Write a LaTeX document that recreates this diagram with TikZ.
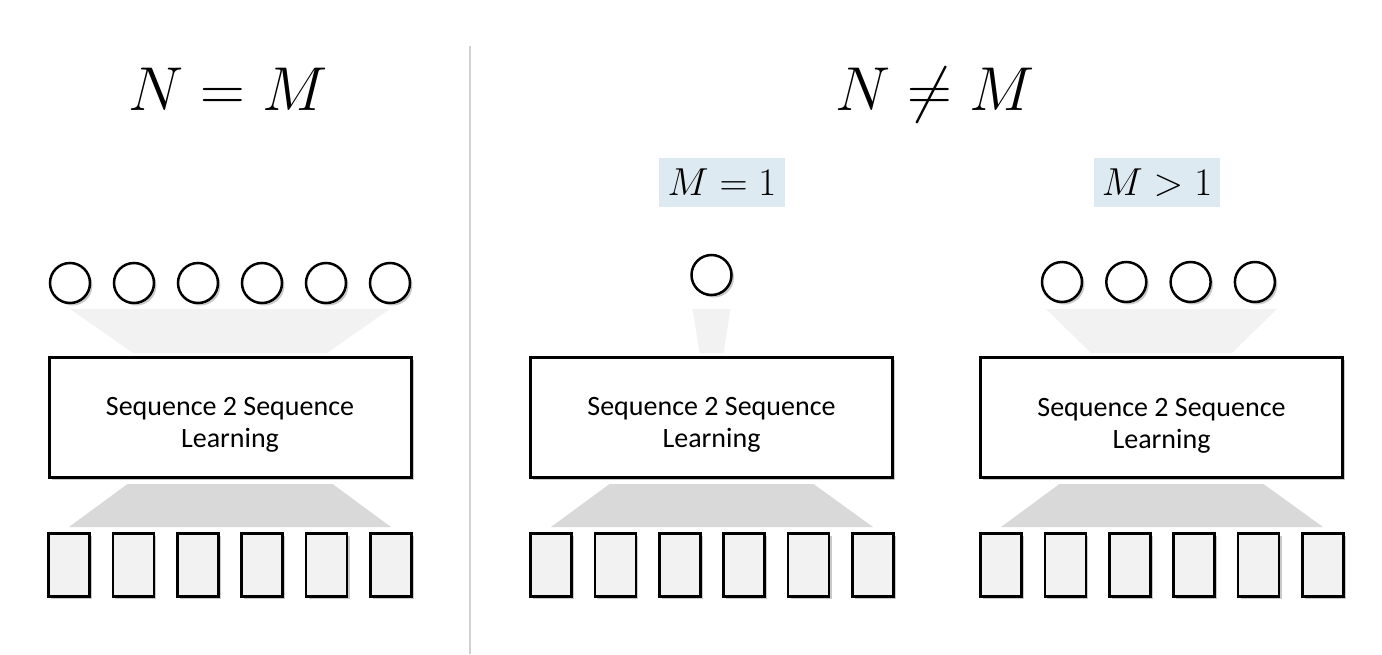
\RequirePackage{fix-cm}
\documentclass[tikz,border=0pt]{standalone}
\usepackage{fontspec}
\setmainfont{Carlito}
\usetikzlibrary{shadows,calc}
\definecolor{lightfan}{HTML}{F2F2F2}
\definecolor{darkfan}{HTML}{D9D9D9}
\definecolor{tokfill}{HTML}{F2F2F2}
\definecolor{tagfill}{RGB}{222,234,241}
\definecolor{divgray}{HTML}{D0D0D0}
\tikzset{
  softshadow/.style={drop shadow={shadow xshift=2.5pt,shadow yshift=-2.5pt,opacity=0.3,fill=black!70}},
  outdot/.style={circle,draw=black,line width=2.5pt,fill=white,minimum size=40pt,inner sep=0pt,softshadow},
  tok/.style={rectangle,draw=black,line width=2.5pt,fill=tokfill,minimum width=41pt,minimum height=63pt,inner sep=0pt,softshadow},
  s2sbox/.style={rectangle,draw=black,line width=3pt,fill=white,minimum width=362pt,minimum height=120pt,inner sep=0pt,softshadow},
  s2stext/.style={inner sep=0pt,align=center,font=\fontsize{28}{32}\selectfont},
  tag/.style={rectangle,fill=tagfill,minimum width=126pt,minimum height=49pt,inner sep=0pt,font=\fontsize{39}{44}\selectfont},
  title/.style={anchor=base,inner sep=0pt,font=\fontsize{62}{70}\selectfont},
  fanlight/.style={fill=lightfan,draw=none},
  fandark/.style={fill=darkfan,draw=none},
  divider/.style={draw=divgray,line width=2pt}
}
\begin{document}
\begin{tikzpicture}[x=1pt,y=-1pt]
\useasboundingbox (0,0) rectangle (1382,654);
% divider
\coordinate (divtop) at (469.5,46);
\coordinate (divbot) at (469.5,654);
\draw[divider] (divtop) -- (divbot);
% titles
\node[title] (t-eq) at (228,110) {$N = M$};
\node[title] (t-neq) at (935,110) {$N \neq M$};
% tags
\node[tag] (tag-one) at (722,182.5) {$M = 1$};
\node[tag] (tag-many) at (1157,182.5) {$M > 1$};

% ---------- left panel ----------
\fill[fanlight] (70,309) -- (390,309) -- (327,353) -- (133,353) -- cycle;
\fill[fandark] (127.5,484) -- (332.5,484) -- (391,527) -- (69,527) -- cycle;
\foreach \i in {0,...,5} {
  \node[outdot] (L-c\i) at ({70+64*\i},283) {};
  \node[tok] (L-s\i) at ({69+64.4*\i},565) {};
}
\node[s2sbox] (L-box) at (230,417) {};
\node[s2stext] (L-txt) at ($(L-box.center)+(0,8)$) {Sequence 2 Sequence\\Learning};

% ---------- middle panel ----------
\fill[fanlight] (692.5,309) -- (730.5,309) -- (723.5,353) -- (699.5,353) -- cycle;
\fill[fandark] (609.5,484) -- (813.5,484) -- (873,527) -- (551,527) -- cycle;
\node[outdot] (M-c0) at (711.5,275) {};
\foreach \i in {0,...,5} {
  \node[tok] (M-s\i) at ({551+64.4*\i},565) {};
}
\node[s2sbox] (M-box) at (711.5,417) {};
\node[s2stext] (M-txt) at ($(M-box.center)+(0,8)$) {Sequence 2 Sequence\\Learning};

% ---------- right panel ----------
\fill[fanlight] (1046,309) -- (1277,309) -- (1232,353) -- (1091,353) -- cycle;
\fill[fandark] (1059.5,484) -- (1263.5,484) -- (1323,527) -- (1001,527) -- cycle;
\foreach \i in {0,...,3} {
  \node[outdot] (R-c\i) at ({1062+64.3*\i},282) {};
}
\foreach \i in {0,...,5} {
  \node[tok] (R-s\i) at ({1001+64.4*\i},565) {};
}
\node[s2sbox] (R-box) at (1161.5,417.5) {};
\node[s2stext] (R-txt) at ($(R-box.center)+(0,8)$) {Sequence 2 Sequence\\Learning};
\end{tikzpicture}
\end{document}
